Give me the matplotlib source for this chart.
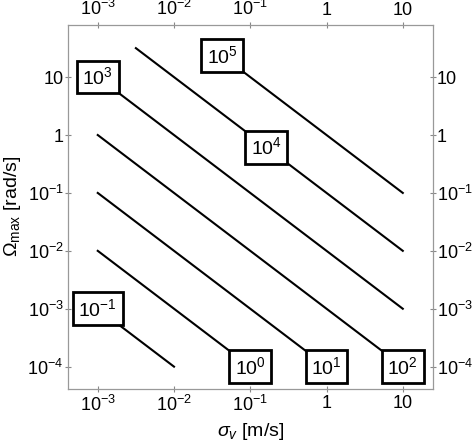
import matplotlib
matplotlib.use('Agg')
import matplotlib.pyplot as plt
import numpy as np

plt.rcParams['font.family'] = ['Liberation Sans', 'DejaVu Sans']
plt.rcParams['mathtext.fontset'] = 'custom'
plt.rcParams['mathtext.rm'] = 'Liberation Sans'
plt.rcParams['mathtext.it'] = 'Liberation Sans:italic'
plt.rcParams['mathtext.bf'] = 'Liberation Sans:bold'

# contour levels and their segments
levels = [r'$10^{-1}$', r'$10^{0}$', r'$10^{1}$', r'$10^{2}$', r'$10^{3}$', r'$10^{4}$', r'$10^{5}$']
sigma_start = [1e-3, 1e-3, 1e-3, 1e-3, 1e-3, 10**-2.5, 10**-1.5]
omega_start = [1e-3, 1e-2, 1e-1, 1.0, 10.0, 10**1.5, 10**1.5]
sigma_end = [1e-2, 1e-1, 1.0, 10.0, 10.0, 10.0, 10.0]
omega_end = [1e-4, 1e-4, 1e-4, 1e-4, 1e-3, 1e-2, 1e-1]
label_sigma = [1e-3, 1e-1, 1.0, 10.0, 1e-3, 10**-0.79, 10**-1.37]
label_omega = [1e-3, 1e-4, 1e-4, 1e-4, 10.0, 10**-0.21, 10**1.37]

tick_x = [1e-3, 1e-2, 1e-1, 1, 10]
tick_x_labels = [r'$10^{-3}$', r'$10^{-2}$', r'$10^{-1}$', '1', '10']
tick_y = [1e-4, 1e-3, 1e-2, 1e-1, 1, 10]
tick_y_labels = [r'$10^{-4}$', r'$10^{-3}$', r'$10^{-2}$', r'$10^{-1}$', '1', '10']

fig = plt.figure(figsize=(4.74, 4.43), dpi=100)
ax = fig.add_axes([0.143, 0.122, 0.770, 0.822])
ax.set_xscale('log')
ax.set_yscale('log')

for i in range(len(levels)):
    ax.plot([sigma_start[i], sigma_end[i]], [omega_start[i], omega_end[i]],
            color='black', lw=1.5, zorder=2)
    ax.text(label_sigma[i], label_omega[i], levels[i], fontsize=14,
            ha='center', va='center', zorder=3,
            bbox=dict(boxstyle='square,pad=0.28', fc='white', ec='black', lw=2.0))

ax.set_xlim(10**-3.393, 10**1.393)
ax.set_ylim(10**-4.385, 10**1.903)

ax.set_xticks(tick_x)
ax.set_xticklabels(tick_x_labels)
ax.xaxis.set_minor_locator(matplotlib.ticker.NullLocator())
ax.set_yticks(tick_y)
ax.set_yticklabels(tick_y_labels)
ax.yaxis.set_minor_locator(matplotlib.ticker.NullLocator())

ax.tick_params(which='both', top=True, right=True, labeltop=True, labelright=True,
               direction='inout', length=5, width=0.8, color='#888888',
               labelsize=13, pad=2)
ax.tick_params(axis='y', which='both', pad=0.5)
for s in ax.spines.values():
    s.set_color('#999999')
    s.set_linewidth(0.9)

ax.set_xlabel(r'$\sigma_v$ [m/s]', fontsize=14, labelpad=4)
ax.set_ylabel(r'$\Omega_{\mathrm{max}}$ [rad/s]', fontsize=14, labelpad=3)

fig.savefig('out.png', dpi=100)
